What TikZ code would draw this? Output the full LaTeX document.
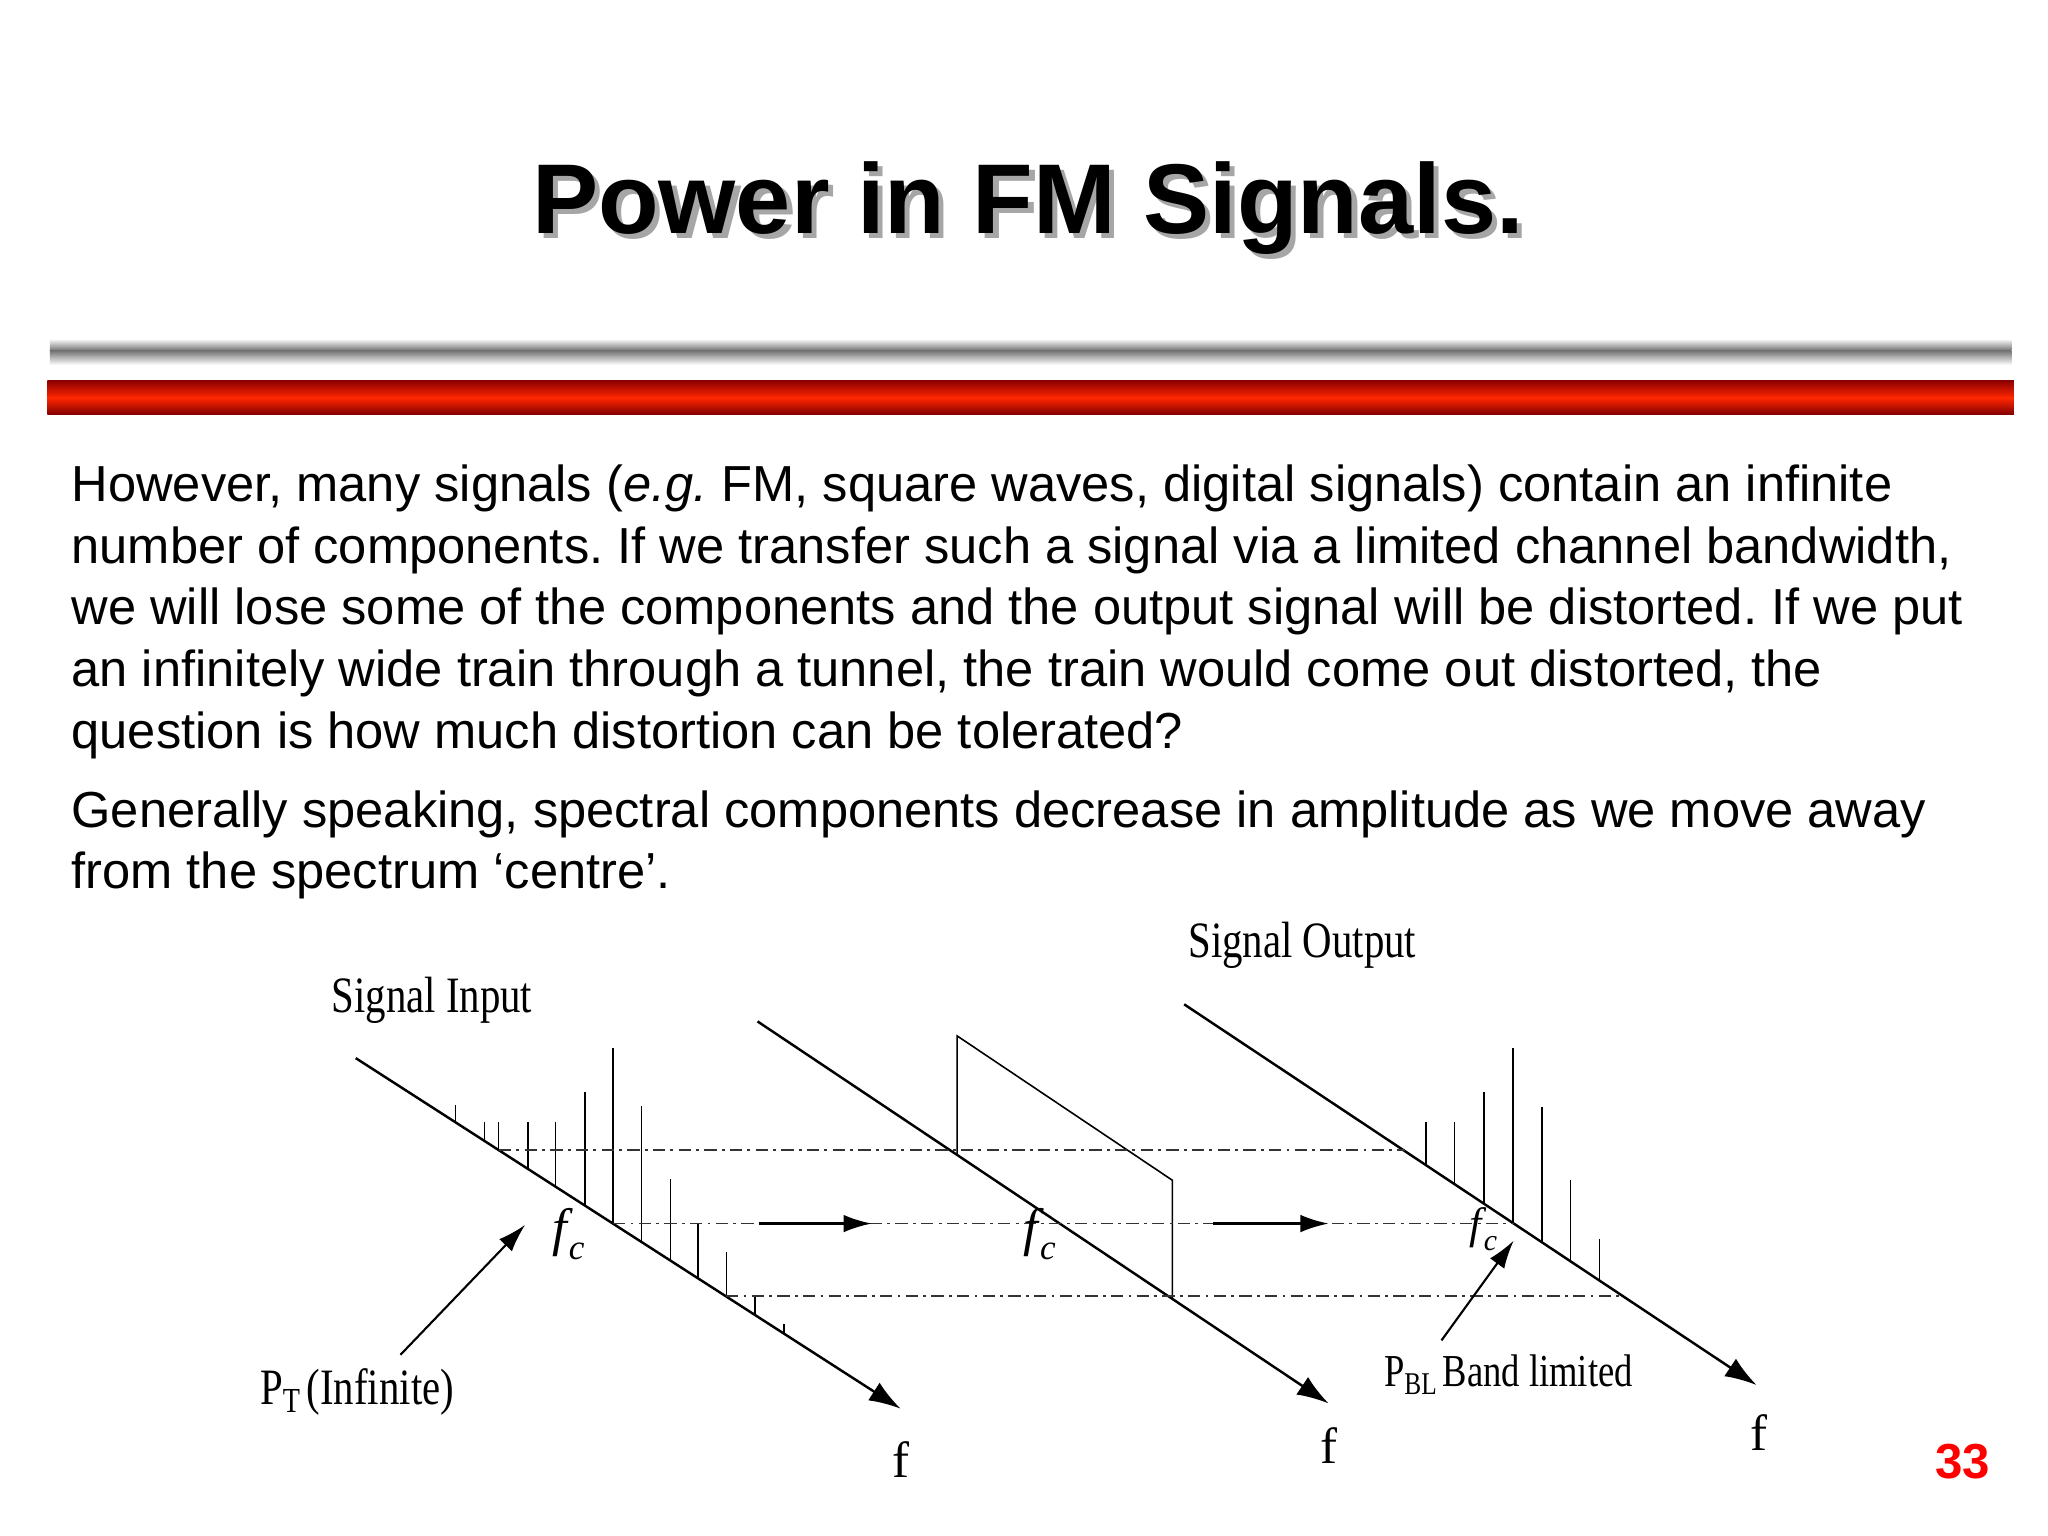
\documentclass[tikz,border=0pt]{standalone}
\usepackage{fontspec}
\setmainfont{Liberation Sans}
\newfontfamily\tms{Liberation Serif}
\usetikzlibrary{arrows.meta}
\frenchspacing
\begin{document}
\begin{tikzpicture}[x=0.013128cm,y=-0.013128cm,
  axis/.style={line width=0.7pt,-{Latex[length=9pt,width=6pt]}},
  spec/.style={line width=0.45pt},
  dd/.style={line width=0.5pt,black!80,dash pattern=on 3.5pt off 1.5pt on 0.8pt off 1.5pt},
  lab/.style={inner sep=0pt,font=\tms\fontsize{14.5}{16}\selectfont},
  body/.style={anchor=base west,inner sep=0pt,font=\fontsize{14.4}{18}\selectfont},
  fcl/.style={inner sep=0pt,font=\tms\fontsize{15}{16}\selectfont}]
\useasboundingbox (0,0) rectangle (1560,1170);
% title
\node[inner sep=0pt,anchor=base,text=black!35,font=\bfseries\fontsize{28.2}{34}\selectfont] (tsh) at (787,182) {Power in FM Signals.};
\node[inner sep=0pt,anchor=base,font=\bfseries\fontsize{28.2}{34}\selectfont] (title) at (783,178) {Power in FM Signals.};
% bars
\shade[top color=white,bottom color=black!55] (38,258) rectangle (1532,267);
\shade[top color=black!55,bottom color=white] (38,267) rectangle (1532,278);
\shade[top color=red!55!black,bottom color=red!70!orange] (36,290) rectangle (1534,303);
\shade[top color=red!70!orange,bottom color=red!50!black] (36,303) rectangle (1534,316);
% body text
\node[body] (l1) at (54,382) {However, many signals (\textit{e.g.} FM, square waves, digital signals) contain an infinite};
\node[body] (l2) at (54,429) {number of components. If we transfer such a signal via a limited channel bandwidth,};
\node[body] (l3) at (54,476) {we will lose some of the components and the output signal will be distorted. If we put};
\node[body] (l4) at (54,523) {an infinitely wide train through a tunnel, the train would come out distorted, the};
\node[body] (l5) at (54,570) {question is how much distortion can be tolerated?};
\node[body] (l6) at (54,630) {Generally speaking, spectral components decrease in amplitude as we move away};
\node[body] (l7) at (54,677) {from the spectrum `centre'.};
% axes
\coordinate (a1s) at (271,806); \coordinate (a1e) at (686,1073);
\coordinate (a2s) at (577,778); \coordinate (a2e) at (1012,1069);
\coordinate (a3s) at (902,765); \coordinate (a3e) at (1338,1055);
\draw[axis] (a1s) -- (a1e);
\draw[axis] (a2s) -- (a2e);
\draw[axis] (a3s) -- (a3e);
% input spectrum
\foreach \x/\t in {347/842,368.9/854.5,379.8/854.5,402.1/854.5,423.1/854.5,445.4/832,466.8/798.4,488.7/842.8,510.6/898.3,531.5/932.6,553.4/953.6,575.3/987.6,597.2/1008.8}
  \draw[spec] (\x,\t) -- (\x,{876+0.642*(\x-379.8)});
% output spectrum
\foreach \x/\t in {1086/855,1108/855,1130.5/832,1152.6/798,1174.5/843,1196.4/899,1218.3/944}
  \draw[spec] (\x,\t) -- (\x,{932+0.666*(\x-1152.6)});
% band-limited channel
\coordinate (b1) at (729,879); \coordinate (b2) at (729,789);
\coordinate (b3) at (893,899); \coordinate (b4) at (893,989);
\draw[spec] (b1) -- (b2) -- (b3) -- (b4);
% dash-dot levels
\coordinate (d1s) at (380,876); \coordinate (d1e) at (1070,876);
\coordinate (d2s) at (467,932); \coordinate (d2e) at (1153,932);
\coordinate (d3s) at (553,987); \coordinate (d3e) at (1236,987);
\draw[dd] (d1s) -- (d1e);
\draw[dd] (d2s) -- (d2e);
\draw[dd] (d3s) -- (d3e);
% transfer arrows
\coordinate (m1s) at (578,932); \coordinate (m1e) at (664,932);
\coordinate (m2s) at (924,932); \coordinate (m2e) at (1012,932);
\draw[line width=0.7pt,-{Latex[length=8pt,width=5pt]}] (m1s) -- (m1e);
\draw[line width=0.7pt,-{Latex[length=8pt,width=5pt]}] (m2s) -- (m2e);
% labels
\node[lab] (sin) at (329,762) {\scalebox{0.8}[1]{Signal Input}};
\node[lab] (sout) at (992,720) {\scalebox{0.8}[1]{Signal Output}};
\node[lab] (pt) at (272,1060) {\scalebox{0.8}[1]{P\raisebox{-0.35ex}{\fontsize{10}{10}\selectfont T}\,(Infinite)}};
\node[lab,font=\tms\fontsize{13}{15}\selectfont] (pbl) at (1149,1047) {\scalebox{0.8}[1]{P\raisebox{-0.35ex}{\fontsize{9}{10}\selectfont BL}\,Band limited}};
\node[fcl] (fc1) at (433,940) {\itshape f\kern0.5pt\raisebox{-0.6ex}{\fontsize{10}{10}\selectfont c}};
\node[fcl] (fc2) at (792,940) {\itshape f\kern0.5pt\raisebox{-0.6ex}{\fontsize{10}{10}\selectfont c}};
\node[fcl,font=\tms\fontsize{12.5}{14}\selectfont] (fc3) at (1130,936) {\itshape f\kern0.5pt\raisebox{-0.6ex}{\fontsize{8.5}{9}\selectfont c}};
\node[lab] (f1) at (686,1112) {f};
\node[lab] (f2) at (1012,1101) {f};
\node[lab] (f3) at (1340,1091) {f};
\coordinate (pta) at (305,1032);
\coordinate (pbla) at (1098,1021);
\draw[line width=0.6pt,-{Latex[length=8pt,width=5pt]}] (pta) -- (400,933);
\draw[line width=0.6pt,-{Latex[length=8pt,width=5pt]}] (pbla) -- (1153,945);
\node[inner sep=0pt,text=red,font=\bfseries\fontsize{14}{16}\selectfont] (pg) at (1495,1113) {33};
\end{tikzpicture}
\end{document}
